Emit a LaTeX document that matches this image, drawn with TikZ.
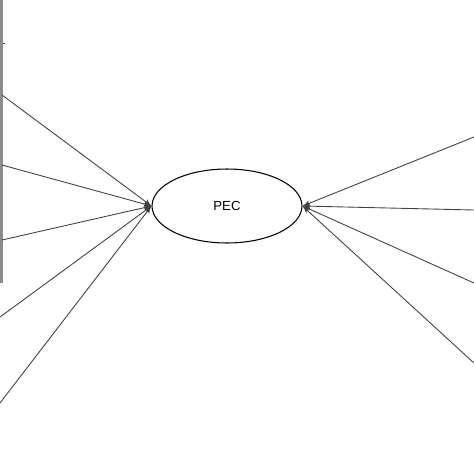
\documentclass[tikz,border=0pt]{standalone}
\usepackage{fontspec}
\setmainfont{Liberation Sans}
\usepackage{tikz}
\tikzstyle{latent}=[ellipse,draw,line width=0.6pt,inner sep=0pt,minimum width=3cm,minimum height=1.48cm,font=\fontsize{7.5}{9}\selectfont]
\tikzstyle{arrow}=[->,>=latex',line width=0.5pt,draw=black!75]
\usetikzlibrary{shapes.geometric,arrows}
\begin{document}
\begin{tikzpicture}[x=0.02cm,y=-0.02cm]
\useasboundingbox (0,0) rectangle (474,474);
% side bar
\fill[black!45] (0,0) rectangle (3,283);
\draw[black!70,line width=0.5pt] (3,43)--(5,43);
\node (pec) [latent] at (227,206) {PEC};
% left indicators
\coordinate (l1) at (2,95);
\coordinate (l2) at (2,165);
\coordinate (l3) at (2,240);
\coordinate (l4) at (0,317);
\coordinate (l5) at (0,403);
% right indicators
\coordinate (r1) at (474,137);
\coordinate (r2) at (474,210);
\coordinate (r3) at (474,283);
\coordinate (r4) at (474,363);
\foreach \i in {l1,l2,l3,l4,l5}
  \draw[arrow] (\i)--(pec.west);
\foreach \i in {r1,r2,r3,r4}
  \draw[arrow] (\i)--(pec.east);
\end{tikzpicture}
\end{document}
